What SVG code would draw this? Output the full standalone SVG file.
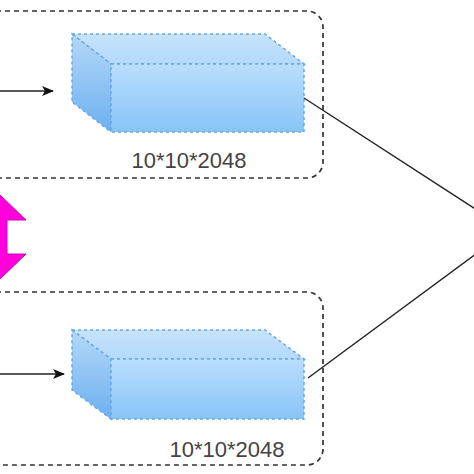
<svg xmlns="http://www.w3.org/2000/svg" width="474" height="474" viewBox="0 0 474 474">
<defs>
<linearGradient id="gFront" x1="0" y1="0" x2="0" y2="1">
<stop offset="0" stop-color="#b9defd"/>
<stop offset="1" stop-color="#88c4f7"/>
</linearGradient>
<linearGradient id="gLeft" x1="0" y1="0" x2="0" y2="1">
<stop offset="0" stop-color="#b4d8f8"/>
<stop offset="1" stop-color="#6cb0f0"/>
</linearGradient>
<linearGradient id="gTop" x1="0" y1="0" x2="0" y2="1">
<stop offset="0" stop-color="#c6e3fc"/>
<stop offset="1" stop-color="#b3d9fb"/>
</linearGradient>
<marker id="arr" viewBox="0 0 12 10" refX="11" refY="5" markerWidth="12" markerHeight="10" markerUnits="userSpaceOnUse" orient="auto">
<path d="M0,0 L12,5 L0,10 L3,5 Z" fill="#111"/>
</marker>
<style>
.box{fill:none;stroke:#333;stroke-width:1.7;stroke-dasharray:5 4}
.face{stroke:#6aa6e6;stroke-width:1.5;stroke-dasharray:3 3}
.lbl{font-family:"Liberation Sans",Arial,sans-serif;font-size:22px;fill:#444;text-anchor:middle}
.conn{stroke:#222;stroke-width:1.4;fill:none}
</style>
</defs>
<rect width="474" height="474" fill="#fff"/>
<g id="top-group">
<rect class="box" x="-20" y="11" width="343" height="167" rx="16"/>
</g>
<g id="top-cuboid">
<polygon class="face" points="72,34 265,34 304,64 111,64" fill="url(#gTop)"/>
<polygon class="face" points="72,34 111,64 111,132 72,102" fill="url(#gLeft)"/>
<rect class="face" x="111" y="64" width="193" height="68" fill="url(#gFront)"/>
</g>
<g id="top-label">
<text class="lbl" x="189" y="168">10*10*2048</text>
</g>
<g id="bottom-group">
<rect class="box" x="-20" y="292" width="343" height="173" rx="16"/>
</g>
<g id="bottom-cuboid">
<polygon class="face" points="72,330 265,330 304,359 111,359" fill="url(#gTop)"/>
<polygon class="face" points="72,330 111,359 111,419 72,390" fill="url(#gLeft)"/>
<rect class="face" x="111" y="359" width="193" height="60" fill="url(#gFront)"/>
</g>
<g id="bottom-label">
<text class="lbl" x="227" y="457">10*10*2048</text>
</g>
<g id="double-arrow">
<polygon points="-2,193 26,220 7,220 7,254 26,254 -2,281 -30,254 -11,254 -11,220 -30,220" fill="#ff00dc" stroke="#d400b0" stroke-width="1"/>
</g>
<g id="connectors">
<line class="conn" x1="-5" y1="91" x2="53" y2="91" marker-end="url(#arr)"/>
<line class="conn" x1="-5" y1="374" x2="64" y2="374" marker-end="url(#arr)"/>
<line class="conn" x1="304" y1="98" x2="480" y2="212"/>
<line class="conn" x1="308" y1="378" x2="480" y2="251"/>
</g>
</svg>
